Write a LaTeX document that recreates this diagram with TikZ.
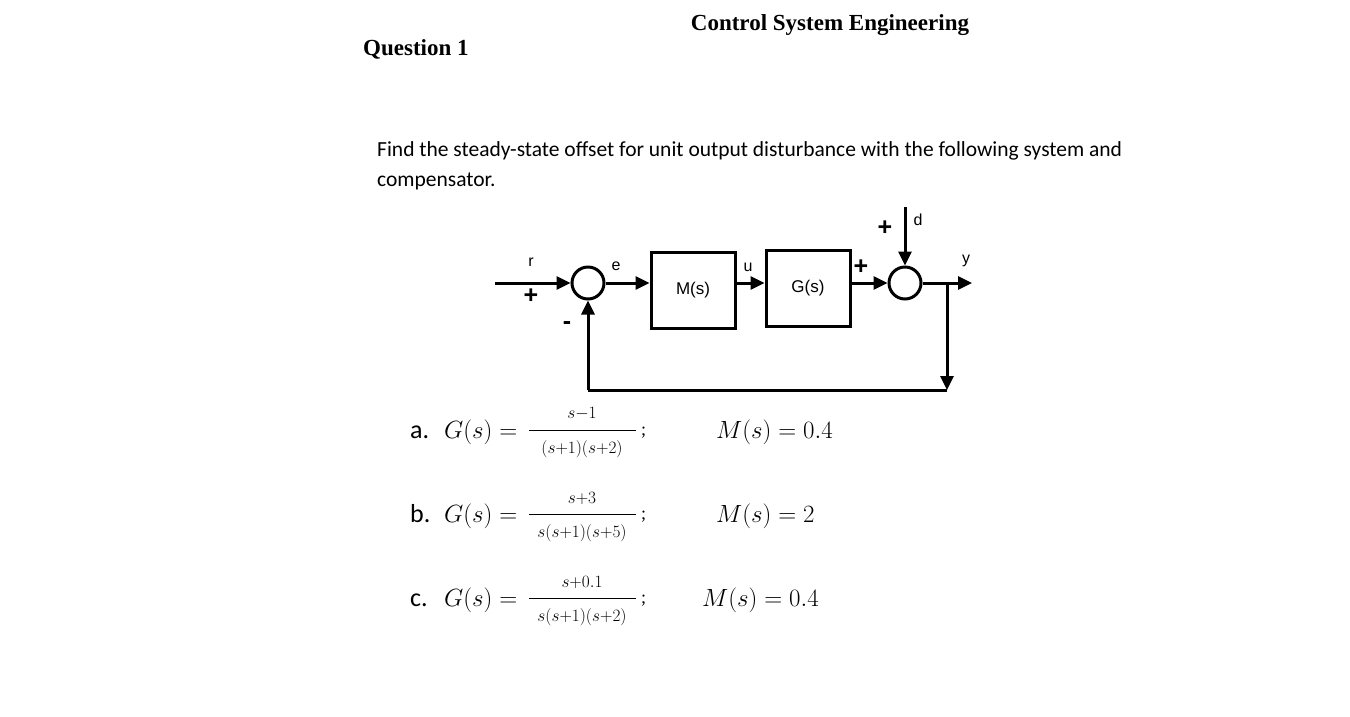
\documentclass[tikz,border=0pt]{standalone}
\usepackage{fontspec}
\setmainfont{Liberation Serif}
\newfontfamily\calfnt{Carlito}
\newfontfamily\ari{Liberation Sans}
\usetikzlibrary{arrows.meta}
\begin{document}
\begin{tikzpicture}[x=1pt,y=-1pt,
  ln/.style={line width=3pt},
  ar/.style={ln,-{Triangle[length=14pt,width=13pt]}},
  blk/.style={draw,line width=3pt,minimum width=84pt,minimum height=76pt,font=\ari\fontsize{17}{18}\selectfont},
  sm/.style={draw,circle,line width=3pt,minimum size=32pt,inner sep=0pt},
  lb/.style={font=\ari\fontsize{16}{17}\selectfont,inner sep=0pt},
  pl/.style={font=\ari\bfseries\fontsize{25}{25}\selectfont,inner sep=0pt},
  mt/.style={font=\fontsize{27}{28}\selectfont,inner sep=0pt,anchor=base west},
  fr/.style={font=\fontsize{18}{19}\selectfont,inner sep=0pt}]
\useasboundingbox (0,0) rectangle (1350,716);
\node[font=\bfseries\fontsize{23}{24}\selectfont] (title) at (830,25) {Control System Engineering};
\node[font=\bfseries\fontsize{23}{24}\selectfont,anchor=west,inner sep=0pt] (q) at (363,49) {Question 1};
\node[font=\calfnt\fontsize{21.5}{30}\selectfont,anchor=north west,align=left,inner sep=0pt] (txt) at (377,141) {Find the steady-state offset for unit output disturbance with the following system and\\compensator.};
% diagram
\coordinate (in) at (495,283);
\node[sm] (s1) at (588,283) {};
\node[blk] (M) at (693,290) {M(s)};
\node[blk] (G) at (808,288) {G(s)};
\node[sm] (s2) at (905,283) {};
\coordinate (out) at (972,283);
\coordinate (br) at (947,283);
\coordinate (bot) at (947,390);
\coordinate (bl) at (588,390);
\coordinate (dtop) at (905,207);
\draw[ar] (in) -- (s1);
\draw[ar] (s1) -- (M.west|-s1);
\draw[ar] (M.east|-s1) -- (G.west|-s1);
\draw[ar] (G.east|-s2) -- (s2);
\draw[ar] (s2) -- (out);
\draw[ar] (br) -- (bot);
\draw[ln] (bot) -- (bl);
\draw[ar] (bl) -- (s1);
\draw[ar] (dtop) -- (s2);
\node[lb] (r) at (531,262) {r};
\node[pl] (p1) at (531,296) {+};
\node[lb] (e) at (616,266) {e};
\node[pl] (m1) at (567,326) {-};
\node[lb] (u) at (748,267) {u};
\node[pl] (p2) at (861,267) {+};
\node[pl] (p3) at (885,228) {+};
\node[lb] (d) at (918,220) {d};
\node[lb] (y) at (966,261) {y};
% options
\foreach \L/\Y/\N/\D/\MX/\MV in {a./438/{$s{-}1$}/{$(s{+}1)(s{+}2)$}/716/{0.4},b./522/{$s{+}3$}/{$s(s{+}1)(s{+}5)$}/716/{2},c./606/{$s{+}0.1$}/{$s(s{+}1)(s{+}2)$}/702/{0.4}}{
  \node[mt,font=\calfnt\fontsize{26}{28}\selectfont] at (410,\Y) {\L};
  \node[mt] at (444,\Y) {$G(s) =$};
  \draw[line width=0.8pt] (529,\Y-8) -- (636,\Y-8);
  \node[fr] at (582,\Y-24) {\N};
  \node[fr] at (582,\Y+11) {\D};
  \node[fr,anchor=west] at (641,\Y-5) {;};
  \node[mt] at (\MX,\Y) {$M(s) = \MV$};
}
\end{tikzpicture}
\end{document}
